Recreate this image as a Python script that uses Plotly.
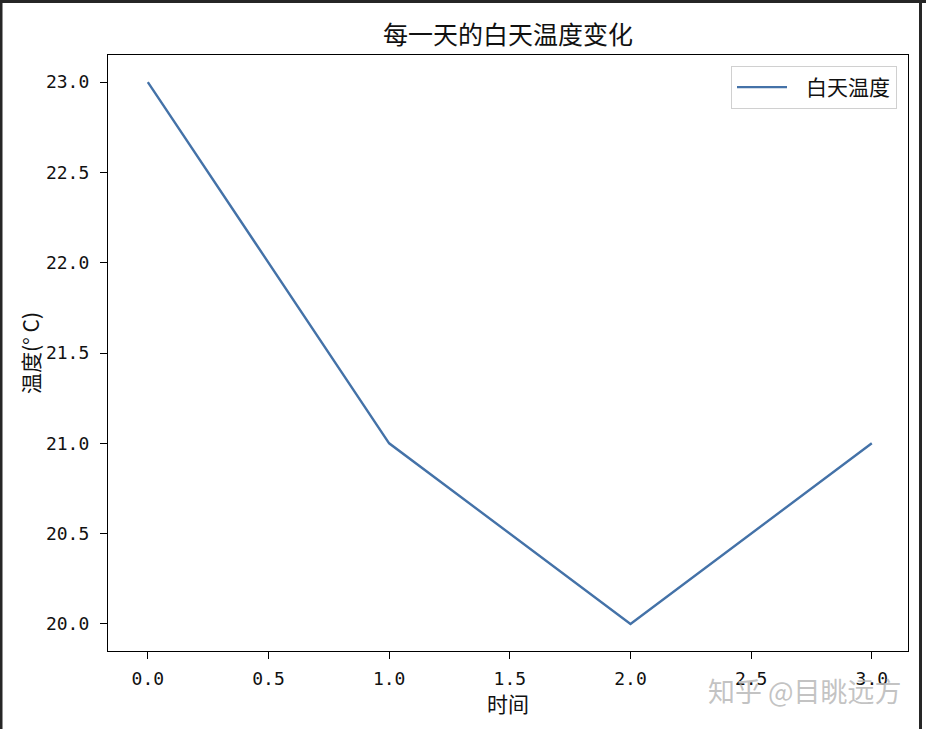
import plotly.graph_objects as go

# ---- data ----
days = [0, 1, 2, 3]
day_temps = [23.0, 21.0, 20.0, 21.0]
series_name = "白天温度"
chart_title = "每一天的白天温度变化"
x_title = "时间"
y_title = "温度(° C)"
watermark = "知乎 @目眺远方"

W, H = 926, 729
L, R, T, B = 108, 908, 55, 651  # plot area in pixels
FONT = "Noto Sans CJK SC, Noto Sans, sans-serif"
TICK_FONT = "DejaVu Sans Mono, Noto Sans Mono CJK SC, monospace"
LINE_COLOR = "#4472a8"

def px_x(p):
    return (p - L) / (R - L)

def px_y(p):
    return (B - p) / (B - T)

fig = go.Figure()
fig.add_trace(go.Scatter(
    x=days, y=day_temps, mode="lines", name="\u00a0\u00a0\u00a0" + series_name,
    line=dict(color=LINE_COLOR, width=2.4),
))

axis_common = dict(
    showgrid=False, zeroline=False, showline=True, linecolor="black", linewidth=1.3,
    mirror=True, ticks="outside", ticklen=7, tickwidth=1.2, tickcolor="black",
    tickfont=dict(family=TICK_FONT, size=18, color="#111111"),
)

fig.update_xaxes(range=[-0.165, 3.15], tick0=0, dtick=0.5, tickformat=".1f",
                 ticklabelstandoff=4, **axis_common)
fig.update_yaxes(range=[19.85, 23.15], tick0=20, dtick=0.5, tickformat=".1f",
                 ticklabelstandoff=7, **axis_common)

annotations = [
    dict(text=chart_title, xref="paper", yref="paper", x=0.5, y=1, xanchor="center",
         yanchor="middle", yshift=22, showarrow=False,
         font=dict(family=FONT, size=25, color="#111111")),
    dict(text=x_title, xref="paper", yref="paper", x=0.5, y=0, xanchor="center",
         yanchor="middle", yshift=-52, showarrow=False,
         font=dict(family=FONT, size=21, color="#111111")),
    dict(text=y_title, xref="paper", yref="paper", x=0, y=0.5, xanchor="center",
         yanchor="middle", xshift=-78, textangle=-90, showarrow=False,
         font=dict(family=FONT, size=21, color="#111111")),
    dict(text=watermark, xref="paper", yref="paper", x=px_x(805), y=px_y(690),
         xanchor="center", yanchor="middle", showarrow=False,
         font=dict(family=FONT, size=27, color="rgba(185,185,185,0.85)")),
]

dark = "#262626"
shapes = [
    dict(type="rect", xref="paper", yref="paper", x0=px_x(0), x1=px_x(2.5), y0=px_y(H), y1=px_y(0),
         fillcolor=dark, line=dict(width=0), layer="above"),
    dict(type="rect", xref="paper", yref="paper", x0=px_x(0), x1=px_x(W), y0=px_y(3), y1=px_y(0),
         fillcolor=dark, line=dict(width=0), layer="above"),
    dict(type="rect", xref="paper", yref="paper", x0=px_x(919), x1=px_x(922), y0=px_y(H), y1=px_y(0),
         fillcolor=dark, line=dict(width=0), layer="above"),
]

fig.update_layout(
    width=W, height=H,
    margin=dict(l=L, r=W - R, t=T, b=H - B, pad=0),
    paper_bgcolor="white", plot_bgcolor="white",
    showlegend=True,
    legend=dict(x=px_x(897), y=px_y(66), xanchor="right", yanchor="top",
                bgcolor="white", bordercolor="#d0d0d0", borderwidth=1,
                font=dict(family=FONT, size=21, color="#111111"),
                itemwidth=50),
    annotations=annotations,
    shapes=shapes,
)

fig.write_html("out.html", config={"displayModeBar": False},
               post_script="document.body.style.margin='0px';")
